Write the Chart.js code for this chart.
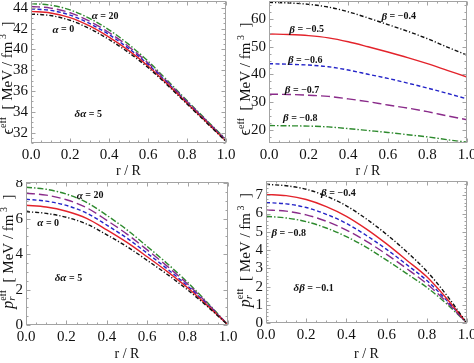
<!DOCTYPE html>
<html><head><meta charset="utf-8">
<script src="https://cdn.jsdelivr.net/npm/chart.js@4.4.1/dist/chart.umd.min.js"></script>
<style>
html,body{margin:0;padding:0;background:#fff;width:474px;height:363px;overflow:hidden;}
canvas{position:absolute;}
</style></head><body>
<canvas id="c1" width="237" height="180" style="left:0;top:0"></canvas>
<canvas id="c2" width="237" height="180" style="left:237px;top:0"></canvas>
<canvas id="c3" width="237" height="183" style="left:0;top:180px"></canvas>
<canvas id="c4" width="237" height="183" style="left:237px;top:180px"></canvas>
<script>
// ---------- data ----------
const rValues = [0.0, 0.1, 0.2, 0.3, 0.4, 0.5, 0.6, 0.7, 0.8, 0.9, 1.0];

// effective energy density vs r/R, alpha = 0..20 (delta alpha = 5)
const epsAlpha0  = [43.40, 43.25, 42.80, 42.00, 40.95, 39.70, 38.25, 36.55, 34.75, 32.95, 31.15];
const epsAlpha5  = [43.65, 43.50, 43.05, 42.25, 41.18, 39.90, 38.41, 36.66, 34.83, 33.01, 31.20];
const epsAlpha10 = [43.90, 43.75, 43.30, 42.49, 41.42, 40.10, 38.56, 36.78, 34.92, 33.08, 31.25];
const epsAlpha15 = [44.12, 43.97, 43.52, 42.71, 41.62, 40.28, 38.70, 36.87, 34.99, 33.13, 31.29];
const epsAlpha20 = [44.40, 44.25, 43.80, 42.98, 41.88, 40.50, 38.87, 37.00, 35.08, 33.20, 31.35];

// effective energy density vs r/R, beta = -0.4..-0.8
const epsBetaM04 = [66.0, 65.8, 65.3, 64.3, 62.6, 60.4, 58.0, 55.6, 52.9, 49.9, 47.0];
const epsBetaM05 = [54.6, 54.4, 54.0, 53.2, 51.8, 50.0, 48.1, 46.1, 43.9, 41.5, 39.1];
const epsBetaM06 = [43.9, 43.7, 43.4, 42.8, 41.6, 40.1, 38.6, 36.9, 35.1, 33.2, 31.2];
const epsBetaM07 = [32.9, 32.8, 32.5, 32.1, 31.2, 30.2, 29.0, 27.9, 26.6, 25.1, 23.7];
const epsBetaM08 = [21.6, 21.5, 21.4, 21.1, 20.5, 19.8, 19.1, 18.3, 17.5, 16.5, 15.6];

// effective radial pressure vs r/R, alpha = 0..20
const prAlpha0  = [6.40, 6.30, 6.08, 5.70, 5.09, 4.42, 3.65, 2.85, 1.98, 1.02, 0];
const prAlpha5  = [6.76, 6.66, 6.42, 6.02, 5.37, 4.66, 3.85, 3.01, 2.10, 1.08, 0];
const prAlpha10 = [7.10, 6.99, 6.75, 6.32, 5.64, 4.90, 4.05, 3.16, 2.20, 1.14, 0];
const prAlpha15 = [7.44, 7.33, 7.07, 6.62, 5.91, 5.13, 4.24, 3.31, 2.31, 1.19, 0];
const prAlpha20 = [7.78, 7.66, 7.39, 6.92, 6.19, 5.37, 4.43, 3.46, 2.41, 1.24, 0];

// effective radial pressure vs r/R, beta = -0.4..-0.8
const prBetaM04 = [7.60, 7.52, 7.33, 6.95, 6.42, 5.70, 4.86, 3.91, 2.85, 1.52, 0];
const prBetaM05 = [7.05, 6.98, 6.77, 6.38, 5.85, 5.15, 4.34, 3.45, 2.54, 1.34, 0];
const prBetaM06 = [6.60, 6.53, 6.33, 5.96, 5.46, 4.80, 4.04, 3.21, 2.34, 1.24, 0];
const prBetaM07 = [6.20, 6.13, 5.93, 5.58, 5.10, 4.48, 3.77, 2.99, 2.16, 1.15, 0];
const prBetaM08 = [5.85, 5.76, 5.56, 5.21, 4.74, 4.15, 3.45, 2.72, 1.96, 1.05, 0];

const xTicks = [0.0, 0.2, 0.4, 0.6, 0.8, 1.0];

// ---------- styles ----------
const lineStyles = [
  {color:'#111111', dash:[4,2,1.2,2]},
  {color:'#e3232b', dash:[]},
  {color:'#2424c8', dash:[4,2.5]},
  {color:'#8a2b8a', dash:[9,4]},
  {color:'#2e8a2e', dash:[6,2,1.5,2]}
];
const SERIF = '"Liberation Serif", "DejaVu Serif", serif';

// ---------- plugins ----------
const frameTicks = {
  id:'frameTicks',
  afterDatasetsDraw(chart, args, o){
    const {ctx, chartArea:a} = chart; const xs = chart.scales.x, ys = chart.scales.y;
    ctx.save();
    ctx.strokeStyle = '#a3a3a3'; ctx.lineWidth = 1;
    const L=Math.round(a.left)+0.5, R=Math.round(a.right)-0.5, T=Math.round(a.top)+0.5, B=Math.round(a.bottom)-0.5;
    ctx.strokeRect(L,T,R-L,B-T);
    function ticksFor(scale, minor, major){
      const res=[]; const start=Math.ceil(scale.min/minor - 1e-6);
      for(let k=start; k*minor <= scale.max + 1e-9; k++){
        const v=k*minor; const m=Math.abs(v/major-Math.round(v/major))<1e-6; res.push([v,m]);
      }
      return res;
    }
    ctx.beginPath();
    ticksFor(xs, o.xMinor, o.xMajor).forEach(([v,m])=>{
      const px=Math.round(xs.getPixelForValue(v))+0.5, len=m?4:2;
      ctx.moveTo(px,B); ctx.lineTo(px,B-len); ctx.moveTo(px,T); ctx.lineTo(px,T+len);
    });
    ticksFor(ys, o.yMinor, o.yMajor).forEach(([v,m])=>{
      const py=Math.round(ys.getPixelForValue(v))+0.5, len=m?4:2;
      ctx.moveTo(L,py); ctx.lineTo(L+len,py); ctx.moveTo(R,py); ctx.lineTo(R-len,py);
    });
    ctx.stroke(); ctx.restore();
  }
};

const notes = {
  id:'notes',
  afterDraw(chart, args, o){
    const {ctx} = chart; const xs=chart.scales.x, ys=chart.scales.y;
    ctx.save(); ctx.fillStyle='#111'; ctx.textBaseline='middle'; ctx.textAlign='left';
    const gf = 'italic bold 11px ' + SERIF, nf = 'bold 10px ' + SERIF;
    o.items.forEach(it=>{
      const px=xs.getPixelForValue(it.x), py=ys.getPixelForValue(it.y);
      const parts=[[it.g,gf],[it.t,nf]];
      let total=0; parts.forEach(p=>{ctx.font=p[1]; total+=ctx.measureText(p[0]).width;});
      let cx=px-total/2;
      parts.forEach(p=>{ctx.font=p[1]; ctx.fillText(p[0],cx,py); cx+=ctx.measureText(p[0]).width;});
    });
    ctx.restore();
  }
};

const richTitle = {
  id:'richTitle',
  afterDraw(chart, args, o){
    const {ctx, chartArea:a} = chart;
    ctx.save();
    ctx.translate(o.x, (a.top+a.bottom)/2 + o.dy);
    ctx.rotate(-Math.PI/2);
    ctx.fillStyle='#111'; ctx.textBaseline='middle'; ctx.textAlign='left';
    const layout=[]; let cx=0, held=0;
    o.parts.forEach(p=>{
      ctx.font=p.f; const w=ctx.measureText(p.t).width;
      layout.push({p, x:cx});
      if(p.hold){ held=w; } else { cx += Math.max(w, held); held=0; }
    });
    const start=-cx/2;
    layout.forEach(l=>{ ctx.font=l.p.f; ctx.fillText(l.p.t, start+l.x, l.p.dy||0); });
    ctx.restore();
  }
};

// ---------- builder ----------
function makeChart(id, series, cfg){
  const tickFont = {family:SERIF, size:15};
  new Chart(document.getElementById(id), {
    type:'line',
    data:{ datasets: series.map((vals,i)=>({
      data: rValues.map((r,j)=>({x:r, y:vals[j]})),
      borderColor: lineStyles[i].color, borderDash: lineStyles[i].dash,
      borderWidth: 1.4, pointRadius: 0, fill:false, cubicInterpolationMode:'monotone'
    })) },
    options:{
      responsive:false, animation:false, devicePixelRatio:1,
      layout:{padding:cfg.padding},
      plugins:{ legend:{display:false}, tooltip:{enabled:false},
        frameTicks:{xMinor:0.05, xMajor:0.2, yMinor:cfg.yMinor, yMajor:cfg.yStep},
        notes:{items:cfg.notes},
        richTitle:{parts:cfg.title, x:cfg.titleX, dy:cfg.titleDy}
      },
      scales:{
        x:{ type:'linear', min:xTicks[0], max:xTicks[xTicks.length-1],
          grid:{display:false, drawTicks:false}, border:{display:false},
          ticks:{stepSize:0.2, includeBounds:false, autoSkip:false, maxRotation:0, padding:3,
            font:tickFont, color:'#111', callback:v=>Number(v).toFixed(1)},
          title:{display:true, text:'r / R', font:{family:SERIF, size:14}, color:'#111', padding:0},
          afterFit(s){ s.height=cfg.bottomH; s.paddingLeft=0; s.paddingRight=0; }
        },
        y:{ type:'linear', min:cfg.yMin, max:cfg.yMax,
          grid:{display:false, drawTicks:false}, border:{display:false},
          ticks:{stepSize:cfg.yStep, includeBounds:false, autoSkip:false, padding:3,
            font:tickFont, color:'#111', callback:v=>String(Math.round(v))},
          afterFit(s){ s.width=cfg.leftW; s.paddingTop=0; s.paddingBottom=0; }
        }
      }
    },
    plugins:[frameTicks, notes, richTitle]
  });
}

const epsTitle = [
  {t:'ϵ', f:'16px '+SERIF},
  {t:'eff', f:'10px '+SERIF, dy:-5},
  {t:'  [ MeV / fm', f:'15px '+SERIF},
  {t:' 3', f:'10px '+SERIF, dy:-5},
  {t:'  ]', f:'15px '+SERIF}
];
const prTitle = [
  {t:'p', f:'italic 16px '+SERIF},
  {t:'r', f:'italic 11px '+SERIF, dy:3, hold:true},
  {t:'eff', f:'10px '+SERIF, dy:-6},
  {t:'  [ MeV / fm', f:'15px '+SERIF},
  {t:' 3', f:'10px '+SERIF, dy:-5},
  {t:'  ]', f:'15px '+SERIF}
];

makeChart('c1', [epsAlpha0, epsAlpha5, epsAlpha10, epsAlpha15, epsAlpha20], {
  padding:{left:0, right:11, top:1, bottom:0}, leftW:31, bottomH:37,
  yMin:31.0, yMax:44.65, yStep:2, yMinor:0.5,
  title:epsTitle, titleX:8.5, titleDy:6,
  notes:[{g:'α', t:' = 20', x:0.38, y:43.17},{g:'α', t:' = 0', x:0.166, y:41.88},{g:'δα', t:' = 5', x:0.294, y:33.78}]
});
makeChart('c2', [epsBetaM04, epsBetaM05, epsBetaM06, epsBetaM07, epsBetaM08], {
  padding:{left:0, right:7, top:1, bottom:0}, leftW:32, bottomH:37,
  yMin:15.3, yMax:66.5, yStep:10, yMinor:2.5,
  title:epsTitle, titleX:9, titleDy:7,
  notes:[{g:'β', t:' = −0.4', x:0.655, y:60.8},{g:'β', t:' = −0.5', x:0.19, y:56.1},
         {g:'β', t:' = −0.6', x:0.183, y:45.1},{g:'β', t:' = −0.7', x:0.167, y:34.4},
         {g:'β', t:' = −0.8', x:0.158, y:24.3}]
});
makeChart('c3', [prAlpha0, prAlpha5, prAlpha10, prAlpha15, prAlpha20], {
  padding:{left:0, right:9, top:2.4, bottom:0}, leftW:26, bottomH:38,
  yMin:0, yMax:8.05, yStep:2, yMinor:0.5,
  title:prTitle, titleX:9, titleDy:-2,
  notes:[{g:'α', t:' = 20', x:0.317, y:7.3},{g:'α', t:' = 0', x:0.11, y:5.75},{g:'δα', t:' = 5', x:0.21, y:2.64}]
});
makeChart('c4', [prBetaM04, prBetaM05, prBetaM06, prBetaM07, prBetaM08], {
  padding:{left:0, right:7, top:1, bottom:0}, leftW:29, bottomH:39.7,
  yMin:0, yMax:7.78, yStep:1, yMinor:0.2,
  title:prTitle, titleX:9, titleDy:-2,
  notes:[{g:'β', t:' = −0.4', x:0.36, y:7.1},{g:'β', t:' = −0.8', x:0.113, y:4.92},{g:'δβ', t:' = −0.1', x:0.237, y:1.91}]
});
</script>
</body></html>
